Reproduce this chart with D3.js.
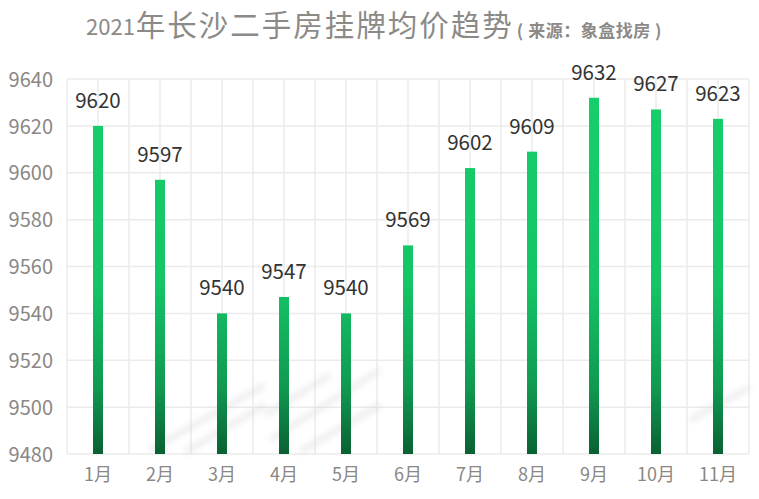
<!DOCTYPE html>
<html>
<head>
<meta charset="utf-8">
<script src="https://cdn.jsdelivr.net/npm/d3@7"></script>
<style>
  body { margin: 0; background: #fff; }
  text { font-family: "Noto Sans CJK SC", "Noto Sans", sans-serif; }
</style>
</head>
<body>
<div id="chart"></div>
<script>
// data
const months = ["1月", "2月", "3月", "4月", "5月", "6月", "7月", "8月", "9月", "10月", "11月"];
const prices = [9620, 9597, 9540, 9547, 9540, 9569, 9602, 9609, 9632, 9627, 9623];
const yTicks = [9480, 9500, 9520, 9540, 9560, 9580, 9600, 9620, 9640];

const W = 759, H = 499;
const m = { left: 67, right: 10, top: 79, bottom: 45 };

const svg = d3.select('#chart').append('svg')
    .attr('width', W)
    .attr('height', H);

const x = d3.scaleBand().domain(months).range([m.left, W - m.right]);
const y = d3.scaleLinear().domain([9480, 9640]).range([H - m.bottom, m.top]);

const defs = svg.append('defs');
// bar gradient (fixed in page space so short bars also get dark bottoms)
const grad = defs.append('linearGradient')
    .attr('id', 'barGrad')
    .attr('gradientUnits', 'userSpaceOnUse')
    .attr('x1', 0).attr('x2', 0)
    .attr('y1', y(9640)).attr('y2', y(9480));
grad.append('stop').attr('offset', '0%').attr('stop-color', '#17cf6c');
grad.append('stop').attr('offset', '55%').attr('stop-color', '#14c466');
grad.append('stop').attr('offset', '82%').attr('stop-color', '#109a51');
grad.append('stop').attr('offset', '100%').attr('stop-color', '#0a6133');

defs.append('filter').attr('id', 'blur')
    .attr('x', '-20%').attr('y', '-50%').attr('width', '140%').attr('height', '200%')
    .append('feGaussianBlur').attr('stdDeviation', 3);

// grid
const g = svg.append('g');
g.selectAll('.hgrid')
    .data(yTicks)
    .join('line')
    .attr('x1', m.left).attr('x2', W - m.right)
    .attr('y1', d => y(d)).attr('y2', d => y(d))
    .attr('stroke', '#ebebeb').attr('stroke-width', 1.5);

let vlines = [];
months.forEach(d => {
    vlines.push(x(d));
    vlines.push(x(d) + x.bandwidth() / 2);
});
vlines.push(W - m.right);
g.selectAll('.vgrid')
    .data(vlines)
    .join('line')
    .attr('x1', d => d).attr('x2', d => d)
    .attr('y1', m.top).attr('y2', y(9480))
    .attr('stroke', '#ebebeb').attr('stroke-width', 1.5);

// faint shine streaks near the bottom
const streaks = [
    [150, 450, 265, 385], [185, 452, 265, 405],
    [270, 440, 380, 370], [300, 452, 380, 405], [265, 415, 330, 375],
    [690, 420, 749, 388]
];
svg.append('g')
    .attr('filter', 'url(#blur)')
    .attr('opacity', 0.45)
    .selectAll('line')
    .data(streaks)
    .join('line')
    .attr('x1', d => d[0]).attr('y1', d => d[1])
    .attr('x2', d => d[2]).attr('y2', d => d[3])
    .attr('stroke', '#d0d0d0').attr('stroke-width', 5);

// y axis labels
svg.append('g')
    .attr('transform', `translate(${m.left - 14},0)`)
    .call(d3.axisLeft(y).tickValues(yTicks).tickSize(0).tickPadding(0).tickFormat(d3.format('d')))
    .call(a => a.select('.domain').remove())
    .selectAll('text')
    .attr('font-size', 20)
    .attr('fill', '#8a8784')
    .attr('dy', '0.36em');

// x axis labels
svg.append('g')
    .attr('transform', `translate(0,${y(9480)})`)
    .call(d3.axisBottom(x).tickSize(0).tickPadding(14))
    .call(a => a.select('.domain').remove())
    .selectAll('text')
    .attr('font-size', 18)
    .attr('fill', '#8a8784');

// bars
const barW = 10;
svg.selectAll('.bar')
    .data(prices)
    .join('rect')
    .attr('x', (d, i) => x(months[i]) + x.bandwidth() / 2 - barW / 2)
    .attr('y', d => y(d))
    .attr('width', barW)
    .attr('height', d => y(9480) - y(d))
    .attr('fill', 'url(#barGrad)');

// value labels
svg.selectAll('.lbl')
    .data(prices)
    .join('text')
    .attr('x', (d, i) => x(months[i]) + x.bandwidth() / 2)
    .attr('y', d => y(d) - 18)
    .attr('text-anchor', 'middle')
    .attr('font-size', 20.5)
    .attr('fill', '#333')
    .text(d => d);

// title: digits, main words and source note run on in one text
const title = svg.append('text')
    .attr('x', 86).attr('y', 35)
    .attr('fill', '#8c8a87');
title.append('tspan')
    .attr('font-size', 22)
    .text('2021');
title.append('tspan')
    .attr('font-size', 29.5)
    .attr('dx', 1).attr('dy', 1)
    .style('letter-spacing', '2px')
    .text('年长沙二手房挂牌均价趋势');
title.append('tspan')
    .attr('font-size', 17)
    .attr('font-weight', 'bold')
    .attr('dx', 3).attr('dy', 1)
    .style('letter-spacing', '0.5px')
    .text('( 来源：象盒找房 )');
</script>
</body>
</html>
